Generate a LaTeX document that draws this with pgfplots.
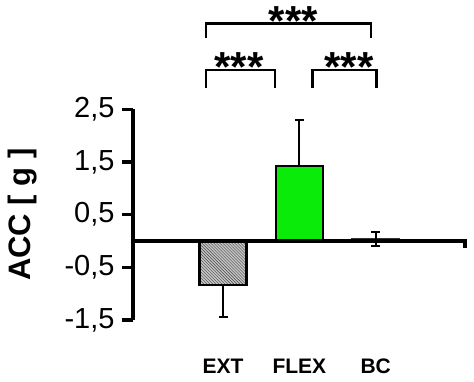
\documentclass[border=0pt]{standalone}
\usepackage{fontspec}
\setmainfont{Liberation Sans}
\usepackage{pgfplots}
\pgfplotsset{compat=1.18}
\usetikzlibrary{patterns}
\definecolor{flexgreen}{RGB}{10,235,10}
\definecolor{bcfill}{RGB}{95,65,65}
\begin{document}
\begin{tikzpicture}
\useasboundingbox (-133bp,-62bp) rectangle (341bp,320bp);
\begin{axis}[
  scale only axis, width=332bp, height=210.7bp,
  xmin=-1.18, xmax=3.17, ymin=-1.5, ymax=2.5,
  clip=false,
  axis y line*=left, axis x line*=bottom,
  x axis line style={draw=none},
  y axis line style={line width=3.2bp},
  xtick={0,1,2}, xticklabels={EXT,FLEX,BC},
  major x tick style={draw=none},
  xticklabel style={font=\bfseries\fontsize{21bp}{24bp}\selectfont, text height=15bp, text depth=0pt, inner sep=1bp, yshift=-26bp},
  ytick={-1.5,-0.5,0.5,1.5,2.5},
  yticklabels={{-1,5},{-0,5},{0,5},{1,5},{2,5}},
  yticklabel style={font=\fontsize{29bp}{32bp}\selectfont, xshift=-4bp},
  tick align=outside,
  major tick length=11bp,
  major y tick style={line width=3.2bp, black},
  ylabel={ACC [ g ]},
  ylabel style={font=\bfseries\fontsize{31bp}{36bp}\selectfont, at={(axis description cs:-0.334,0.5)}, anchor=center},
  error bars/error bar style={line width=2.2bp, black},
  error bars/error mark options={rotate=90, mark size=4.5bp, line width=2.2bp, black},
]
\addplot[ybar, bar width=47bp, bar shift=0pt, draw=black, line width=2.2bp, fill=gray!45,
  postaction={pattern=north west lines, pattern color=black!75},
  error bars/.cd, y dir=minus, y explicit]
  coordinates {(0,-0.83) +- (0,0.62)};
\addplot[ybar, bar width=47bp, bar shift=0pt, draw=black, line width=2.2bp, fill=flexgreen,
  error bars/.cd, y dir=plus, y explicit]
  coordinates {(1,1.43) +- (0,0.87)};
\addplot[ybar, bar width=47bp, bar shift=0pt, draw=black!80, line width=1.6bp, fill=bcfill,
  error bars/.cd, y dir=both, y explicit]
  coordinates {(2,0.04) +- (0,0.13)};
\draw[line width=3.2bp] (axis cs:-1.18,0) -- (axis cs:3.17,0) -- ([yshift=-7bp]axis cs:3.17,0);
% significance brackets
\draw[line width=2.4bp] (axis cs:-0.22,3.86) -- (axis cs:-0.22,4.13) -- (axis cs:1.94,4.13) -- (axis cs:1.94,3.86);
\draw[line width=2.4bp] (axis cs:-0.22,2.91) -- (axis cs:-0.22,3.25) -- (axis cs:0.68,3.25) -- (axis cs:0.68,2.91);
\draw[line width=2.4bp] (axis cs:1.17,2.91) -- (axis cs:1.17,3.25) -- (axis cs:2.01,3.25) -- (axis cs:2.01,2.91);
\node[font=\bfseries\fontsize{42bp}{46bp}\selectfont, anchor=base, inner sep=0pt, yshift=-23bp] at (axis cs:0.92,4.33) {***};
\node[font=\bfseries\fontsize{42bp}{46bp}\selectfont, anchor=base, inner sep=0pt, yshift=-23bp] at (axis cs:0.21,3.46) {***};
\node[font=\bfseries\fontsize{42bp}{46bp}\selectfont, anchor=base, inner sep=0pt, yshift=-23bp] at (axis cs:1.65,3.46) {***};
\end{axis}
\end{tikzpicture}
\end{document}
